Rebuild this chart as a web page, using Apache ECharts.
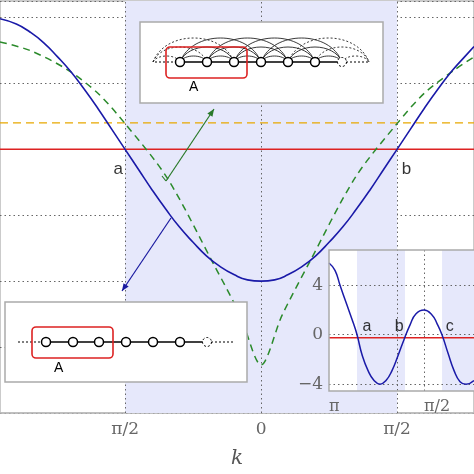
<!DOCTYPE html><html><head><meta charset="utf-8">
<script src="https://cdn.jsdelivr.net/npm/echarts@6/dist/echarts.min.js"></script>
<style>html,body{margin:0;padding:0;background:#fff}#c{width:474px;height:474px}</style></head><body><div id="c"></div>
<script>
// main panel: k in units of pi
const blueK=[-0.96,-0.9,-0.85,-0.8,-0.75,-0.7,-0.65,-0.6,-0.55,-0.5,-0.45,-0.4,-0.35,-0.3,-0.25,-0.2,-0.15,-0.1,-0.05,0,0.05,0.1,0.15,0.2,0.25,0.3,0.35,0.4,0.45,0.5,0.55,0.6,0.65,0.7,0.75,0.783];
const blueV=[4.98,4.90,4.78,4.62,4.41,4.18,3.91,3.62,3.31,3.0,2.69,2.38,2.09,1.82,1.59,1.38,1.22,1.10,1.02,1.0,1.02,1.10,1.22,1.38,1.59,1.82,2.09,2.38,2.69,3.0,3.31,3.62,3.91,4.18,4.41,4.56];
const greenK=[-0.96,-0.85,-0.713,-0.6,-0.5,-0.346,-0.176,-0.077,0,0.077,0.176,0.346,0.5,0.6,0.713,0.783];
const greenV=[4.63,4.5,4.21,3.85,3.39,2.57,1.27,0.48,-0.27,0.48,1.27,2.57,3.39,3.85,4.21,4.40];
const redLevel=3.0, orangeLevel=3.4;
const xTicks=[-0.5,0,0.5], xTickLabels=['π/2','0','π/2'];
// inset panel
const insT=[0,0.063,0.116,0.189,0.253,0.295,0.347,0.411,0.474,0.537,0.6,0.663,0.726,0.789,0.853,0.916,1.0,1.084,1.137,1.189,1.253,1.316,1.379,1.442,1.526];
const insV=[5.8,5.2,4.0,2.4,1.0,0,-1.6,-2.9,-3.7,-4.0,-3.7,-2.9,-1.7,-0.4,0.8,1.7,2.0,1.6,0.9,0,-1.5,-2.9,-3.8,-4.0,-3.7];
const insRed=-0.25;
const insTicks=[0,1], insTickLabels=['π','π/2'];
const insY=[-4,0,4];

const ch=echarts.init(document.getElementById('c'));
const serif='DejaVu Serif';
function chain(y,nodes,dashedNode,xl,xr,box){
  const g=[];
  g.push({type:'line',shape:{x1:xl,y1:y,x2:nodes[0],y2:y},style:{stroke:'#000',lineDash:[2,2],lineWidth:1.2},z:10});
  g.push({type:'line',shape:{x1:nodes[0],y1:y,x2:dashedNode,y2:y},style:{stroke:'#000',lineWidth:1.5},z:10});
  g.push({type:'line',shape:{x1:dashedNode,y1:y,x2:xr,y2:y},style:{stroke:'#000',lineDash:[2,2],lineWidth:1.2},z:10});
  nodes.forEach(x=>g.push({type:'circle',shape:{cx:x,cy:y,r:4.5},style:{fill:'#fff',stroke:'#000',lineWidth:1.5},z:12}));
  g.push({type:'circle',shape:{cx:dashedNode,cy:y,r:4.5},style:{fill:'#fff',stroke:'#000',lineWidth:1,lineDash:[2,2]},z:12});
  g.push({type:'rect',shape:{x:box[0],y:box[1],width:box[2],height:box[3],r:4},style:{fill:'none',stroke:'#d22',lineWidth:1.6},z:13});
  return g;
}
const gr=[];
gr.push({type:'rect',shape:{x:140,y:22,width:243,height:81},style:{fill:'#fff',stroke:'#aaa',lineWidth:1.5},z:9});
gr.push(...chain(62,[180,207,234,261,288,315],342,155,368,[166,47,81,31]));
const allN=[153,180,207,234,261,288,315,342,369];
for(const span of [1,2,3]){
  for(let i=0;i+span<allN.length;i++){
    const a=allN[i],b=allN[i+span];const h=span==1?8:span==2?20:32;
    const dashed=(i==0||i+span==allN.length-1);
    gr.push({type:'bezierCurve',shape:{x1:a,y1:62,x2:b,y2:62,cpx1:a+(b-a)*0.15,cpy1:62-h,cpx2:a+(b-a)*0.85,cpy2:62-h},style:{stroke:'#222',fill:'none',lineWidth:0.9,lineDash:dashed?[2,2]:null},z:10});
  }
}
gr.push({type:'text',x:189,y:80,style:{text:'A',font:'14px Liberation Sans',fill:'#000'},z:14});
gr.push({type:'rect',shape:{x:5,y:302,width:242,height:80},style:{fill:'#fff',stroke:'#aaa',lineWidth:1.5},z:9});
gr.push(...chain(342,[46,73,99,126,153,180],207,18,235,[32,327,81,31]));
gr.push({type:'text',x:54,y:361,style:{text:'A',font:'14px Liberation Sans',fill:'#000'},z:14});
function arrow(x1,y1,x2,y2,c){
  const ang=Math.atan2(y2-y1,x2-x1),L=8,w=0.4;
  return [{type:'line',shape:{x1,y1,x2,y2},style:{stroke:c,lineWidth:1.2},z:15},
   {type:'polygon',shape:{points:[[x2,y2],[x2-L*Math.cos(ang-w),y2-L*Math.sin(ang-w)],[x2-L*Math.cos(ang+w),y2-L*Math.sin(ang+w)]]},style:{fill:c},z:15}];
}
gr.push(...arrow(166,181,214,109,'#2a7a2a'));
gr.push({type:'line',shape:{x1:166,y1:181,x2:162,y2:176},style:{stroke:'#2a7a2a',lineWidth:1.2},z:15});
gr.push(...arrow(171,218,122,291,'#1a1aa0'));
gr.push({type:'rect',shape:{x:329,y:250,width:150,height:141},style:{fill:'none',stroke:'#aaa',lineWidth:1.5},z:20});

const dot={color:'#666',type:[1.5,3],width:1};
ch.setOption({
  animation:false,
  graphic:gr,
  grid:[{left:0,right:0,top:1,bottom:55,show:true,borderColor:'#bbb',borderWidth:1.5},
        {left:329,top:250,width:150,height:141}],
  xAxis:[{type:'value',min:-0.96,max:0.783,gridIndex:0,
    axisLine:{show:true,onZero:false,lineStyle:{color:'#bbb',width:1.5}},axisTick:{show:false},splitLine:{show:false},
    axisLabel:{customValues:xTicks,formatter:v=>xTickLabels[xTicks.indexOf(Math.round(v*100)/100)]??'',color:'#666',fontFamily:serif,fontSize:17,margin:8},
    name:'k',nameLocation:'middle',nameGap:36,nameTextStyle:{fontFamily:serif,fontStyle:'italic',fontSize:20,color:'#555'}},
   {type:'value',min:0,max:1.526,gridIndex:1,z:20,
    axisLine:{show:false},axisTick:{show:false},splitLine:{show:false},
    axisLabel:{customValues:insTicks,formatter:v=>insTickLabels[insTicks.indexOf(Math.round(v))]??'',color:'#666',fontFamily:serif,fontSize:16,margin:8,align:'left'}}],
  yAxis:[{type:'value',min:-1,max:5.25,interval:1,gridIndex:0,axisLabel:{show:false},axisLine:{show:false},axisTick:{show:false},
    splitLine:{show:true,lineStyle:dot}},
   {type:'value',min:-4.55,max:6.85,gridIndex:1,z:20,axisLine:{show:false},axisTick:{show:false},
    axisLabel:{customValues:insY,color:'#666',fontFamily:serif,fontSize:17,margin:6,formatter:v=>v<0?'−'+(-v):''+v},splitLine:{show:false}}],
  series:[
    {type:'line',xAxisIndex:0,yAxisIndex:0,data:[],silent:true,z:1,
     markArea:{silent:true,itemStyle:{color:'#e6e8fb'},data:[[{xAxis:-0.5},{xAxis:0.5}]]},
     markLine:{silent:true,symbol:'none',label:{show:false},lineStyle:dot,data:xTicks.map(v=>({xAxis:v}))}},
    {type:'line',data:[[-0.96,redLevel],[0.783,redLevel]],symbol:'none',lineStyle:{color:'#d22',width:1.5},silent:true,z:3},
    {type:'line',data:[[-0.96,orangeLevel],[0.783,orangeLevel]],symbol:'none',lineStyle:{color:'#e8a800',width:1.3,type:[8,5]},silent:true,z:3},
    {type:'line',data:greenK.map((k,i)=>[k,greenV[i]]),symbol:'none',smooth:0.3,lineStyle:{color:'#2a8a2a',width:1.5,type:[7,5]},z:4},
    {type:'line',data:blueK.map((k,i)=>[k,blueV[i]]),symbol:'none',smooth:true,lineStyle:{color:'#1a1aa8',width:1.6},z:5},
    {type:'scatter',data:[[-0.525,2.7],[0.535,2.7]],symbolSize:0,z:8,label:{show:true,formatter:p=>['a','b'][p.dataIndex],color:'#000',fontSize:17,fontFamily:'Liberation Sans',position:'inside'}},
    {type:'line',xAxisIndex:1,yAxisIndex:1,data:[],silent:true,z:16,
     markArea:{silent:true,data:[[{xAxis:0,itemStyle:{color:'#fff'}},{xAxis:1.526}],[{xAxis:0.295,itemStyle:{color:'#e6e8fb'}},{xAxis:0.8}],[{xAxis:1.19,itemStyle:{color:'#e6e8fb'}},{xAxis:1.526}]]}},
    {type:'line',xAxisIndex:1,yAxisIndex:1,data:[],silent:true,z:17,
     markLine:{silent:true,symbol:'none',label:{show:false},lineStyle:dot,data:[{xAxis:1},...insY.map(v=>({yAxis:v}))]}},
    {type:'line',xAxisIndex:1,yAxisIndex:1,data:[[0,insRed],[1.526,insRed]],symbol:'none',lineStyle:{color:'#d22',width:1.5},z:18},
    {type:'line',xAxisIndex:1,yAxisIndex:1,data:insT.map((t,i)=>[t,insV[i]]),symbol:'none',smooth:true,lineStyle:{color:'#1a1aa8',width:1.5},z:18},
    {type:'scatter',xAxisIndex:1,yAxisIndex:1,data:[[0.4,0.65],[0.74,0.65],[1.27,0.65]],symbolSize:0,z:19,
     label:{show:true,formatter:p=>['a','b','c'][p.dataIndex],color:'#000',fontSize:16,fontFamily:'Liberation Sans',position:'inside'}}
  ]
});
</script></body></html>
